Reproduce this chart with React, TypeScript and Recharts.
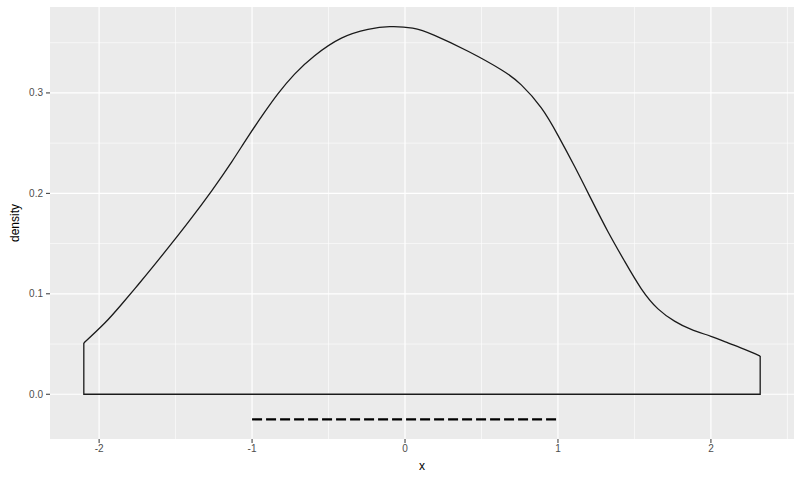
import React from "react"
import { ComposedChart, Line, XAxis, YAxis, CartesianGrid } from "recharts"

// density curve
const curveX = [
  -2.1, -1.963, -1.854, -1.745, -1.637, -1.527, -1.408, -1.264, -1.133, -1.026,
  -0.918, -0.83, -0.722, -0.591, -0.416, -0.242, -0.1, 0.05, 0.193, 0.412,
  0.629, 0.76, 0.891, 1.0, 1.109, 1.218, 1.327, 1.435, 1.545, 1.654,
  1.762, 1.871, 2.0, 2.111, 2.22, 2.322,
]
const curveY = [
  0.051, 0.0709, 0.0894, 0.109, 0.129, 0.1499, 0.1731, 0.2026, 0.2314, 0.2565,
  0.2808, 0.2993, 0.3187, 0.337, 0.3545, 0.3632, 0.366, 0.3645, 0.3573, 0.3415,
  0.3231, 0.308, 0.2851, 0.2578, 0.2267, 0.194, 0.1618, 0.1326, 0.105, 0.085,
  0.0728, 0.0645, 0.0577, 0.0512, 0.0446, 0.038,
]

// closing edges + baseline of the density polygon
const outlineX = [-2.1, -2.1, 2.322, 2.322]
const outlineY = [0.051, 0, 0, 0.038]

// dashed segment under the curve
const segX = [-1, 1]
const segY = [-0.025, -0.025]

const xTicks = [-2, -1, 0, 1, 2]
const yTicks = [0, 0.1, 0.2, 0.3]
const xMinor = [-1.5, -0.5, 0.5, 1.5, 2.5]
const yMinor = [0.05, 0.15, 0.25, 0.35]

const zip = (xs: number[], ys: number[]) => xs.map((x, i) => ({ x, y: ys[i] }))

const curveData = zip(curveX, curveY)
const outlineData = zip(outlineX, outlineY)
const segData = zip(segX, segY)

// ggplot-style 5% expansion
const allX = [...curveX, ...segX]
const allY = [...curveY, ...outlineY, ...segY]
const expand = (v: number[]): [number, number] => {
  const lo = Math.min(...v)
  const hi = Math.max(...v)
  const pad = (hi - lo) * 0.05
  return [lo - pad, hi + pad]
}
const xDomain = expand(allX)
const yDomain = expand(allY)

const App = () => {
  return (
    <div style={{ position: "absolute", top: 0, left: 0, fontFamily: "'Liberation Sans', Arial, sans-serif" }}>
      <ComposedChart width={800} height={480} margin={{ top: 7, right: 6, bottom: 0, left: 0 }}>
        <CartesianGrid
          fill="#EBEBEB"
          stroke="#FFFFFF"
          strokeWidth={0.6}
          verticalValues={xMinor}
          horizontalValues={yMinor}
        />
        <CartesianGrid stroke="#FFFFFF" strokeWidth={1.2} verticalValues={xTicks} horizontalValues={yTicks} />
        <XAxis
          type="number"
          dataKey="x"
          domain={xDomain}
          ticks={xTicks}
          allowDataOverflow
          height={41}
          axisLine={false}
          tickSize={4}
          tickLine={{ stroke: "#333333" }}
          tick={{ fill: "#4D4D4D", fontSize: 10 }}
          label={{ value: "x", position: "insideBottom", offset: 10, fill: "#000", fontSize: 12 }}
        />
        <YAxis
          type="number"
          dataKey="y"
          domain={yDomain}
          ticks={yTicks}
          allowDataOverflow
          width={50}
          axisLine={false}
          tickSize={4}
          tickMargin={3}
          tickLine={{ stroke: "#333333" }}
          tick={{ fill: "#4D4D4D", fontSize: 10 }}
          tickFormatter={(v: number) => v.toFixed(1)}
          label={{
            value: "density",
            angle: -90,
            position: "insideLeft",
            offset: 15,
            fill: "#000",
            fontSize: 12,
            style: { textAnchor: "middle" },
          }}
        />
        <Line
          data={outlineData}
          dataKey="y"
          type="linear"
          stroke="#1a1a1a"
          strokeWidth={1.3}
          dot={false}
          isAnimationActive={false}
        />
        <Line
          data={curveData}
          dataKey="y"
          type="natural"
          stroke="#1a1a1a"
          strokeWidth={1.3}
          dot={false}
          isAnimationActive={false}
        />
        <Line
          data={segData}
          dataKey="y"
          type="linear"
          stroke="#000000"
          strokeWidth={2.2}
          strokeDasharray="10 4"
          dot={false}
          isAnimationActive={false}
        />
      </ComposedChart>
    </div>
  )
}

export default App
